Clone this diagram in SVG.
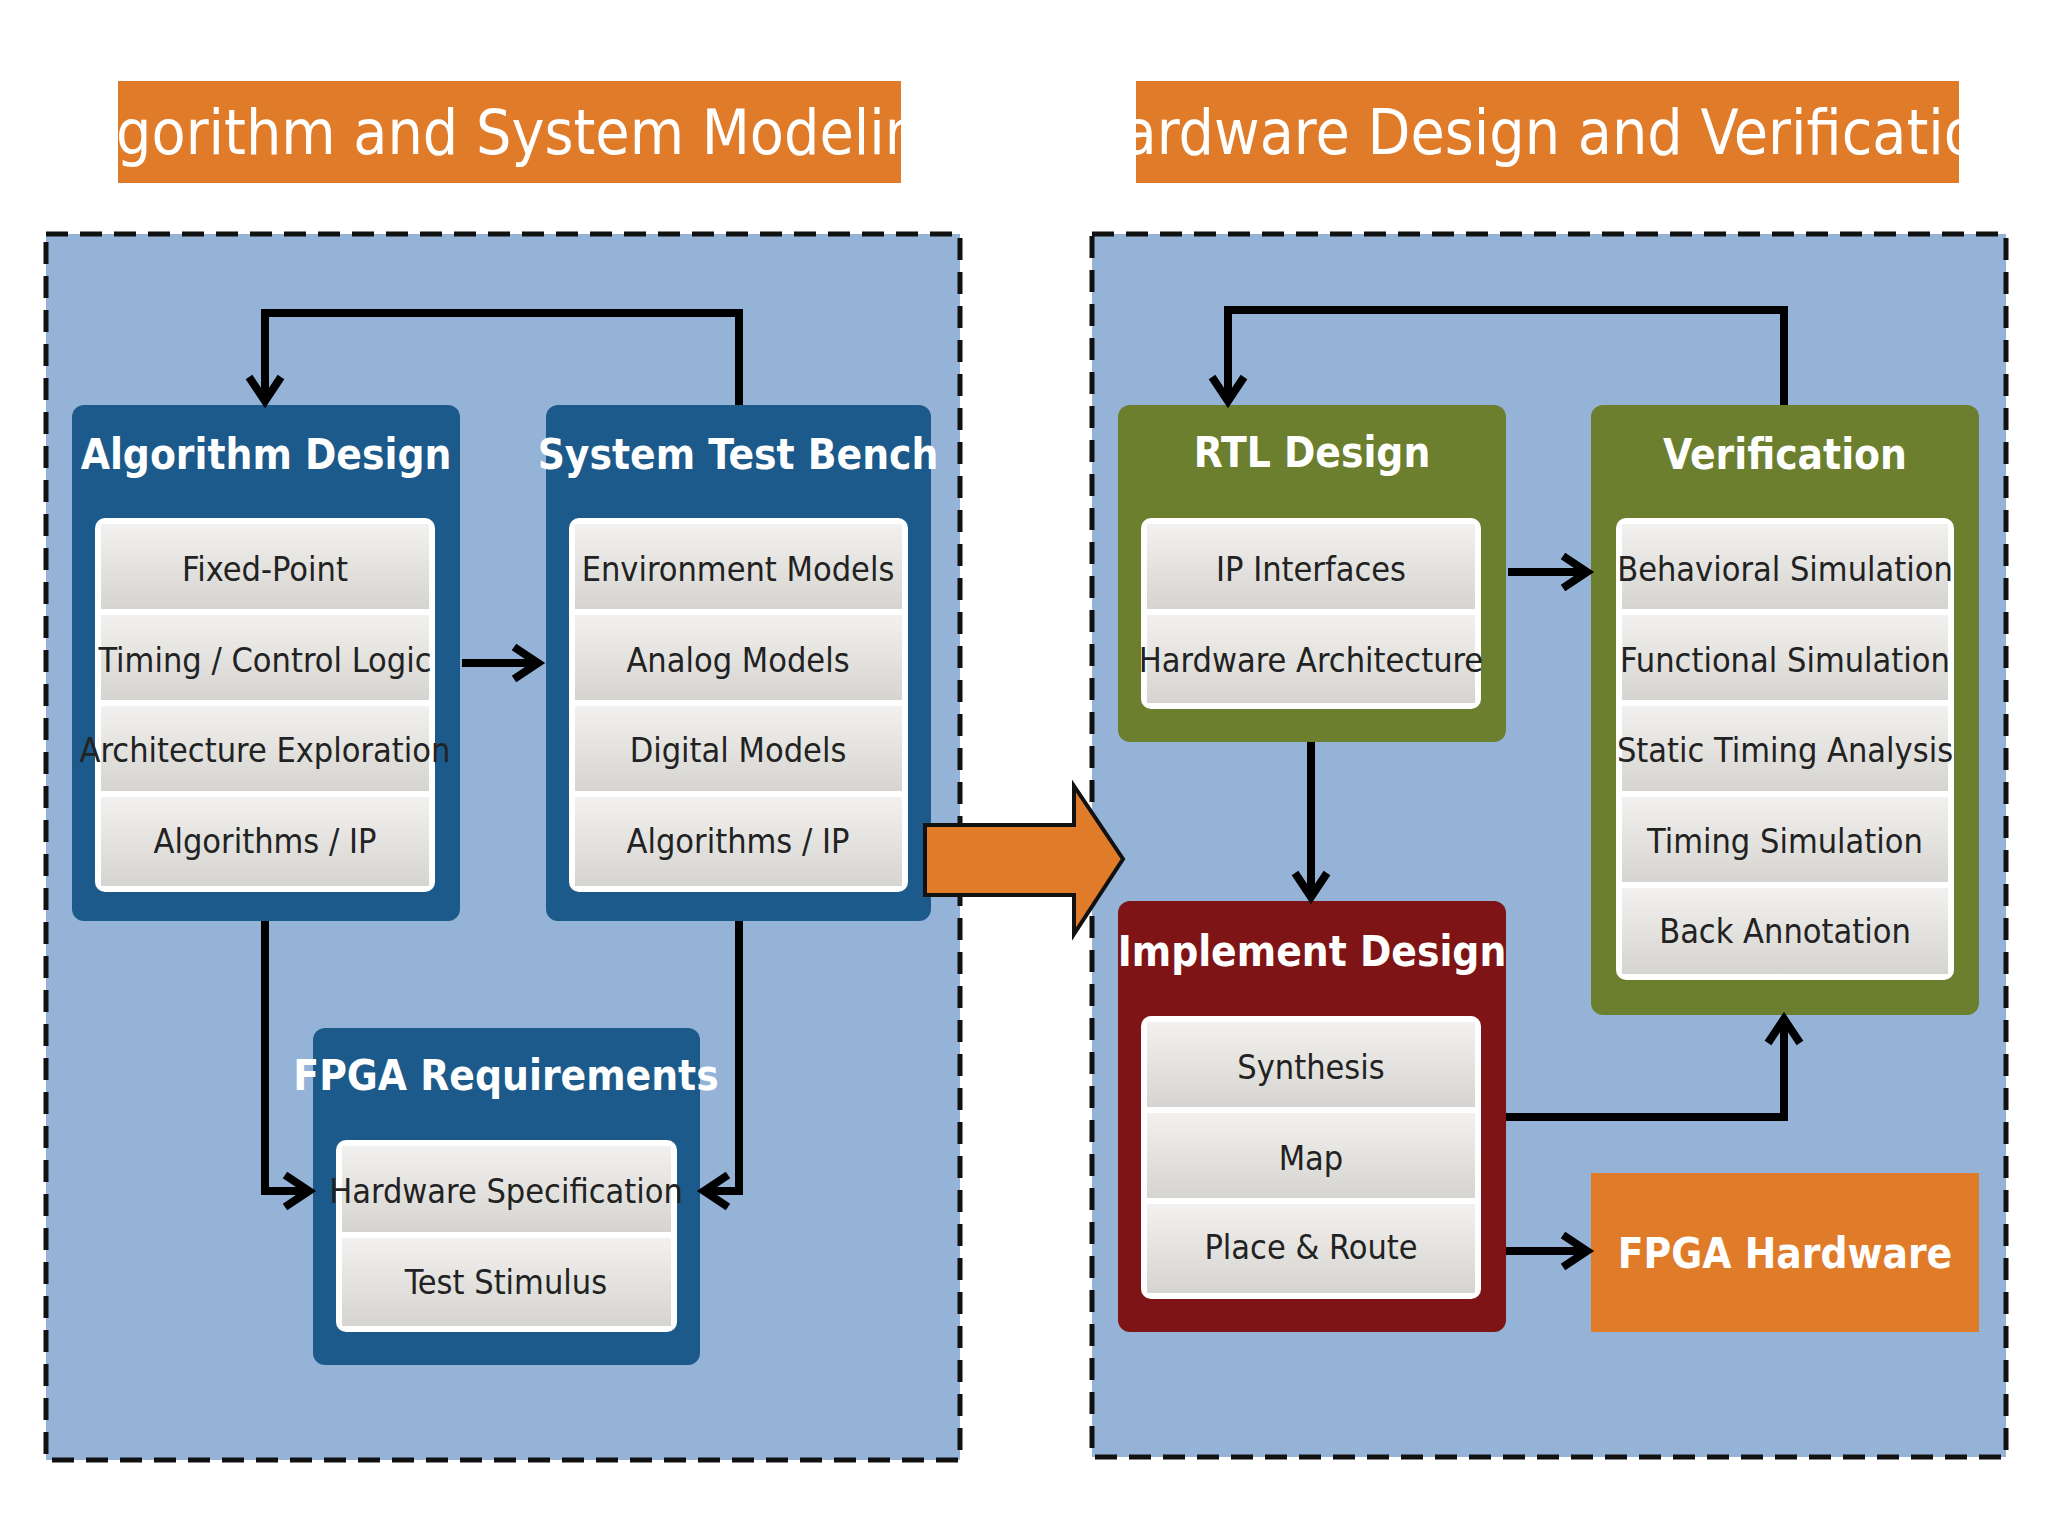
<svg xmlns="http://www.w3.org/2000/svg" width="2048" height="1536" viewBox="0 0 2048 1536">
<defs>
<linearGradient id="cg" x1="0" y1="0" x2="0" y2="1"><stop offset="0" stop-color="#f2f1ef"/><stop offset="1" stop-color="#d6d4d0"/></linearGradient>
<marker id="ah" viewBox="0 0 20 20" refX="16" refY="10" markerWidth="5" markerHeight="5" markerUnits="strokeWidth" orient="auto"><polyline points="4,2 16,10 4,18" fill="none" stroke="#000" stroke-width="4"/></marker>
<style>
.t{font-family:"Liberation Sans Narrow","DejaVu Sans Condensed",sans-serif;fill:#fff;text-anchor:middle}
.ti{font-size:62px}
.h{font-size:42px;font-weight:bold}
.r{font-family:"Liberation Sans Narrow","DejaVu Sans Condensed",sans-serif;font-size:34px;fill:#222;text-anchor:middle}
.c{fill:url(#cg)}
.p{fill:#fff}
.ln{fill:none;stroke:#000;stroke-width:8;marker-end:url(#ah)}
</style>
</defs>
<rect width="2048" height="1536" fill="#fff"/>
<g id="titles">
<rect x="118" y="81" width="783" height="102" fill="#e07b2a"/>
<text class="t ti" x="509" y="154">Algorithm and System Modeling</text>
<rect x="1136" y="81" width="823" height="102" fill="#e07b2a"/>
<text class="t ti" x="1547" y="154">Hardware Design and Verification</text>
</g>
<g id="panels">
<rect x="46" y="234" width="914" height="1226" fill="#95b3d7" stroke="#111" stroke-width="5" stroke-dasharray="22,12"/>
<rect x="1092" y="234" width="914" height="1223" fill="#95b3d7" stroke="#111" stroke-width="5" stroke-dasharray="22,12"/>
</g>
<g id="algo">
<rect x="72" y="405" width="388" height="516" rx="12" fill="#1b5a8a"/>
<text class="t h" x="266" y="469">Algorithm Design</text>
<rect class="p" x="95" y="518" width="340" height="374" rx="10"/>
<rect class="c" x="101" y="524" width="328" height="85"/><rect class="c" x="101" y="615" width="328" height="85"/><rect class="c" x="101" y="706" width="328" height="85"/><rect class="c" x="101" y="797" width="328" height="89"/>
<text class="r" x="265" y="581">Fixed-Point</text><text class="r" x="265" y="672">Timing / Control Logic</text><text class="r" x="265" y="762">Architecture Exploration</text><text class="r" x="265" y="853">Algorithms / IP</text>
</g>
<g id="stb">
<rect x="546" y="405" width="385" height="516" rx="12" fill="#1b5a8a"/>
<text class="t h" x="738" y="469">System Test Bench</text>
<rect class="p" x="569" y="518" width="339" height="374" rx="10"/>
<rect class="c" x="575" y="524" width="327" height="85"/><rect class="c" x="575" y="615" width="327" height="85"/><rect class="c" x="575" y="706" width="327" height="85"/><rect class="c" x="575" y="797" width="327" height="89"/>
<text class="r" x="738" y="581">Environment Models</text><text class="r" x="738" y="672">Analog Models</text><text class="r" x="738" y="762">Digital Models</text><text class="r" x="738" y="853">Algorithms / IP</text>
</g>
<g id="fpgareq">
<rect x="313" y="1028" width="387" height="337" rx="12" fill="#1b5a8a"/>
<text class="t h" x="506" y="1090">FPGA Requirements</text>
<rect class="p" x="336" y="1140" width="341" height="192" rx="10"/>
<rect class="c" x="342" y="1146" width="329" height="86"/><rect class="c" x="342" y="1238" width="329" height="88"/>
<text class="r" x="506" y="1203">Hardware Specification</text><text class="r" x="506" y="1294">Test Stimulus</text>
</g>
<g id="rtl">
<rect x="1118" y="405" width="388" height="337" rx="12" fill="#6b7f2e"/>
<text class="t h" x="1312" y="467">RTL Design</text>
<rect class="p" x="1141" y="518" width="340" height="191" rx="10"/>
<rect class="c" x="1147" y="524" width="328" height="85"/><rect class="c" x="1147" y="615" width="328" height="88"/>
<text class="r" x="1311" y="581">IP Interfaces</text><text class="r" x="1311" y="672">Hardware Architecture</text>
</g>
<g id="verif">
<rect x="1591" y="405" width="388" height="610" rx="12" fill="#6b7f2e"/>
<text class="t h" x="1785" y="469">Verification</text>
<rect class="p" x="1616" y="518" width="338" height="462" rx="10"/>
<rect class="c" x="1622" y="524" width="326" height="85"/><rect class="c" x="1622" y="615" width="326" height="85"/><rect class="c" x="1622" y="706" width="326" height="85"/><rect class="c" x="1622" y="797" width="326" height="85"/><rect class="c" x="1622" y="888" width="326" height="86"/>
<text class="r" x="1785" y="581">Behavioral Simulation</text><text class="r" x="1785" y="672">Functional Simulation</text><text class="r" x="1785" y="762">Static Timing Analysis</text><text class="r" x="1785" y="853">Timing Simulation</text><text class="r" x="1785" y="943">Back Annotation</text>
</g>
<g id="impl">
<rect x="1118" y="901" width="388" height="431" rx="12" fill="#7f1416"/>
<text class="t h" x="1312" y="966">Implement Design</text>
<rect class="p" x="1141" y="1016" width="340" height="283" rx="10"/>
<rect class="c" x="1147" y="1022" width="328" height="85"/><rect class="c" x="1147" y="1113" width="328" height="85"/><rect class="c" x="1147" y="1204" width="328" height="89"/>
<text class="r" x="1311" y="1079">Synthesis</text><text class="r" x="1311" y="1170">Map</text><text class="r" x="1311" y="1259">Place &amp; Route</text>
</g>
<g id="fpgahw">
<rect x="1591" y="1173" width="388" height="159" fill="#e07b2a"/>
<text class="t h" x="1785" y="1268">FPGA Hardware</text>
</g>
<g id="connectors">
<polygon points="925,825 1074,825 1074,786 1123,859 1074,934 1074,895 925,895" fill="#e07b2a" stroke="#111" stroke-width="4"/>
<polyline class="ln" points="739,405 739,313 265,313 265,401"/>
<polyline class="ln" points="462,663 538,663"/>
<polyline class="ln" points="265,921 265,1191 309,1191"/>
<polyline class="ln" points="739,921 739,1191 704,1191"/>
<polyline class="ln" points="1784,405 1784,310 1228,310 1228,401"/>
<polyline class="ln" points="1508,572 1587,572"/>
<polyline class="ln" points="1311,742 1311,897"/>
<polyline class="ln" points="1506,1117 1784,1117 1784,1019"/>
<polyline class="ln" points="1506,1251 1587,1251"/>
</g>
</svg>
